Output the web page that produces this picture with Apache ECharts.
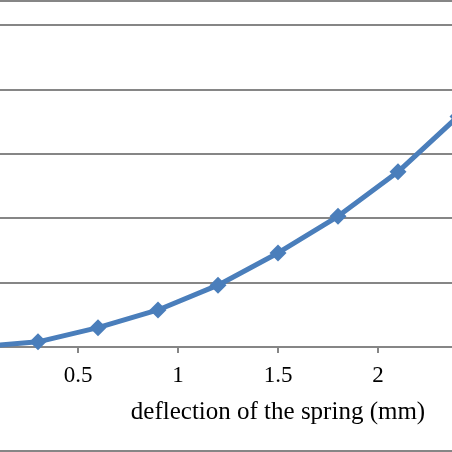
<!DOCTYPE html>
<html>
<head>
<meta charset="utf-8">
<script src="https://cdn.jsdelivr.net/npm/echarts@6/dist/echarts.min.js"></script>
<style>html,body{margin:0;padding:0;background:#fff}#c{width:452px;height:452px}</style>
</head>
<body>
<div id="c"></div>
<script>
var deflection = [0, 0.3, 0.6, 0.9, 1.2, 1.5, 1.8, 2.1, 2.4];
var load = [0, 0.08, 0.30, 0.575, 0.96, 1.46, 2.03, 2.72, 3.58];
var xTicks = [0, 0.5, 1, 1.5, 2, 2.5, 3];
var xTitle = 'deflection of the spring (mm)';

var chart = echarts.init(document.getElementById('c'), null, {renderer: 'canvas'});
var pts = deflection.map(function (d, i) { return [d, load[i]]; });
chart.setOption({
  animation: false,
  backgroundColor: '#ffffff',
  grid: {left: -22, right: -126, top: -39.4, bottom: 105, containLabel: false, outerBoundsMode: 'none'},
  xAxis: {
    type: 'value', min: xTicks[0], max: xTicks[xTicks.length - 1], interval: 0.5,
    axisLine: {show: true, lineStyle: {color: '#868686', width: 2}},
    axisTick: {show: true, length: 6, lineStyle: {color: '#868686', width: 2}},
    axisLabel: {margin: 17, fontFamily: 'Liberation Serif', fontSize: 23, color: '#000'},
    splitLine: {show: false},
    name: xTitle, nameLocation: 'middle', nameGap: 53,
    nameTextStyle: {fontFamily: 'Liberation Serif', fontSize: 25, color: '#000'}
  },
  yAxis: {
    type: 'value', min: 0, max: 6, interval: 1,
    axisLine: {show: false}, axisTick: {show: false}, axisLabel: {show: false},
    splitLine: {show: true, lineStyle: {color: '#868686', width: 2}}
  },
  graphic: [
    {type: 'line', shape: {x1: 0, y1: 1, x2: 452, y2: 1}, style: {stroke: '#868686', lineWidth: 2}},
    {type: 'line', shape: {x1: 0, y1: 451, x2: 452, y2: 451}, style: {stroke: '#868686', lineWidth: 2}}
  ],
  series: [{
    type: 'line', data: pts, smooth: false,
    symbol: 'diamond', symbolSize: 17,
    lineStyle: {color: '#4a7ebb', width: 5},
    itemStyle: {color: '#4a7ebb'}
  }]
});
</script>
</body>
</html>
